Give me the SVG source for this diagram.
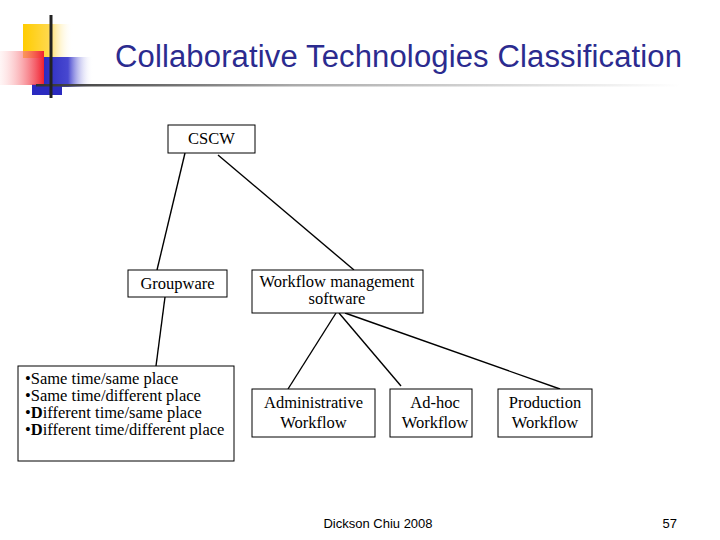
<svg xmlns="http://www.w3.org/2000/svg" width="720" height="540" viewBox="0 0 720 540">
<style>
.b{fill:#fff;stroke:#000;stroke-width:1}
.t{font-family:"Liberation Serif",serif;font-size:16.5px;fill:#000}
.c line{stroke:#000;stroke-width:1.4}
</style>
<defs>
<linearGradient id="gy" x1="0" x2="1"><stop offset="0" stop-color="#ffcc00"/><stop offset="0.5" stop-color="#ffd84a"/><stop offset="1" stop-color="#fff" stop-opacity="0"/></linearGradient>
<linearGradient id="gr" x1="1" x2="0"><stop offset="0" stop-color="#f02030"/><stop offset="1" stop-color="#ffe0e0" stop-opacity="0.3"/></linearGradient>
<linearGradient id="gb" x1="0" x2="1"><stop offset="0" stop-color="#2a2ac0"/><stop offset="0.5" stop-color="#4848d0"/><stop offset="1" stop-color="#fff" stop-opacity="0"/></linearGradient>
<linearGradient id="gl" x1="0" x2="1"><stop offset="0" stop-color="#333"/><stop offset="0.4" stop-color="#aaa"/><stop offset="1" stop-color="#fff"/></linearGradient>
</defs>
<rect width="720" height="540" fill="#fff"/>
<g id="logo">
<rect x="23" y="24" width="50" height="34" fill="url(#gy)"/>
<rect x="43" y="57" width="50" height="30" fill="url(#gb)"/>
<rect x="32" y="84" width="30" height="11" fill="#2a2ac0"/>
<rect x="0" y="51" width="44" height="34" fill="url(#gr)"/>
<rect x="36" y="84" width="644" height="2.5" fill="url(#gl)"/>
<line x1="51" y1="15" x2="51" y2="98" stroke="#222" stroke-width="3"/>
</g>
<text x="115" y="67" font-family="Liberation Sans,Arial,sans-serif" font-size="31" fill="#2b2b8f" textLength="567">Collaborative Technologies Classification</text>
<g class="c">
<line x1="185" y1="153" x2="157" y2="270"/>
<line x1="218" y1="155" x2="354" y2="270"/>
<line x1="165" y1="297" x2="156" y2="366"/>
<line x1="336" y1="313" x2="288" y2="389"/>
<line x1="339" y1="313" x2="401" y2="386"/>
<line x1="345" y1="313" x2="560" y2="389"/>
</g>
<g id="cscw"><rect class="b" x="168" y="125" width="87" height="28"/><text class="t" x="211.5" y="144" text-anchor="middle">CSCW</text></g>
<g id="groupware"><rect class="b" x="128" y="270" width="99" height="27"/><text class="t" x="177.5" y="289" text-anchor="middle">Groupware</text></g>
<g id="wfm"><rect class="b" x="252" y="270" width="171" height="43"/><text class="t" x="337" y="287" text-anchor="middle" font-size="15">Workflow management</text><text class="t" x="337" y="304" text-anchor="middle" font-size="15">software</text></g>
<g id="bullets"><rect class="b" x="18" y="366" width="216" height="95"/>
<text class="t" x="25" y="384" font-size="15">•Same time/same place</text>
<text class="t" x="25" y="401" font-size="15">•Same time/different place</text>
<text class="t" x="25" y="418" font-size="15">•<tspan font-weight="bold">D</tspan>ifferent time/same place</text>
<text class="t" x="25" y="435" font-size="15">•<tspan font-weight="bold">D</tspan>ifferent time/different place</text></g>
<g id="admin"><rect class="b" x="252" y="389" width="123" height="48"/><text class="t" x="313.5" y="408" text-anchor="middle">Administrative</text><text class="t" x="313.5" y="428" text-anchor="middle">Workflow</text></g>
<g id="adhoc"><rect class="b" x="390" y="389" width="82" height="48"/><text class="t" x="435" y="408" text-anchor="middle">Ad-hoc</text><text class="t" x="435" y="428" text-anchor="middle">Workflow</text></g>
<g id="prod"><rect class="b" x="498" y="389" width="94" height="48"/><text class="t" x="545" y="408" text-anchor="middle">Production</text><text class="t" x="545" y="428" text-anchor="middle">Workflow</text></g>
<text x="378" y="528" font-family="Liberation Sans,Arial,sans-serif" font-size="13" text-anchor="middle">Dickson Chiu 2008</text>
<text x="677" y="528" font-family="Liberation Sans,Arial,sans-serif" font-size="13" text-anchor="end">57</text>
</svg>
